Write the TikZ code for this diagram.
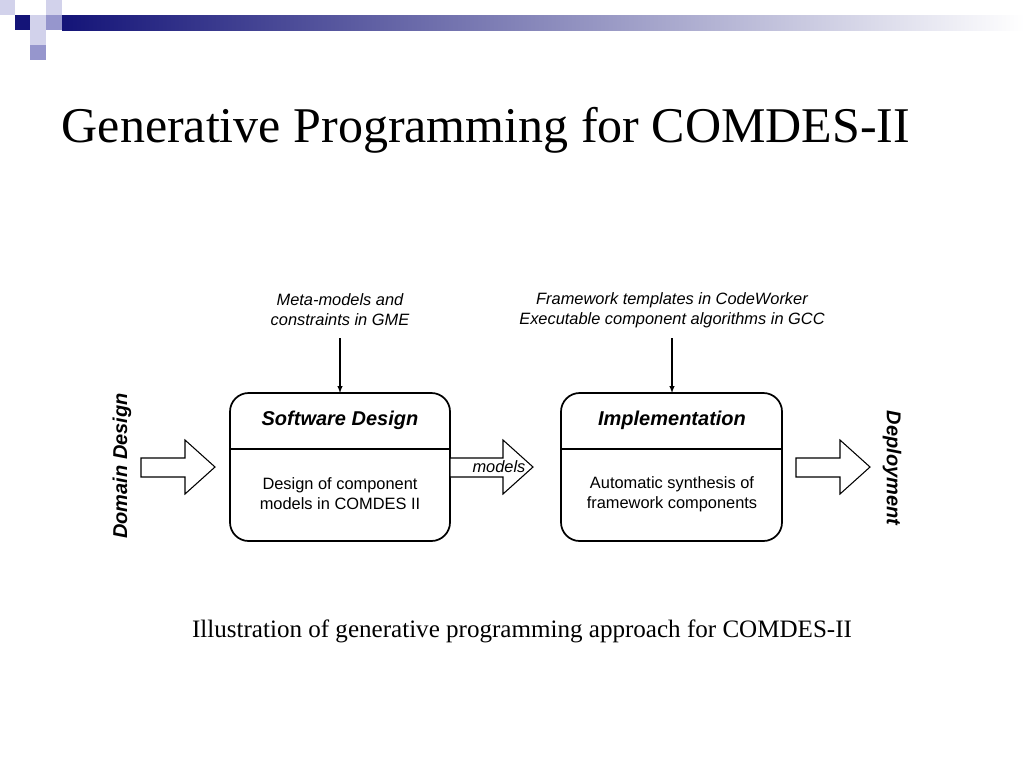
\documentclass[tikz,border=0pt]{standalone}
\usepackage{fontspec}
\setmainfont{Liberation Serif}
\setsansfont{Liberation Sans}
\definecolor{navy}{RGB}{20,20,120}
\definecolor{lightsq}{RGB}{210,210,235}
\definecolor{midsq}{RGB}{150,150,205}
\definecolor{greymid}{RGB}{165,165,190}
\begin{document}
\begin{tikzpicture}[x=0.75pt,y=-0.75pt,
  lbl/.style={font=\sffamily\itshape\fontsize{12.3}{15}\selectfont,align=center},
  body/.style={font=\sffamily\fontsize{12.3}{15}\selectfont,align=center},
  head/.style={font=\sffamily\bfseries\itshape\fontsize{15}{18}\selectfont},
  side/.style={font=\sffamily\bfseries\itshape\fontsize{15}{18}\selectfont},
  blk/.style={draw,line width=1.3pt,rounded corners=14pt},
  fat/.style={draw,line width=0.8pt,fill=white},
  arr/.style={-latex,line width=0.8pt}]
\useasboundingbox (0,0) rectangle (1024,768);
% decoration
\shade[left color=navy,middle color=greymid,right color=white] (62,15) rectangle (1024,30);
\fill[navy] (15,15) rectangle (30,30);
\fill[lightsq] (0,0) rectangle (15,15);
\fill[lightsq] (46,0) rectangle (62,15);
\fill[lightsq] (30,15) rectangle (46,30);
\fill[midsq] (46,15) rectangle (62,30);
\fill[lightsq] (30,30) rectangle (46,45);
\fill[midsq] (30,45) rectangle (46,60);
\node[anchor=west,font=\fontsize{37.5}{42}\selectfont] (title) at (57,130) {Generative Programming for COMDES-II};
% blocks
\draw[blk] (230,393) rectangle (450,541);
\draw[line width=0.8pt] (230,449) -- (450,449);
\draw[blk] (561,393) rectangle (782,541);
\draw[line width=0.8pt] (561,449) -- (782,449);
\node[head] (sd) at (340,420) {Software Design};
\node[body] (sdb) at (340,494) {Design of component\\models in COMDES II};
\node[head] (im) at (672,420) {Implementation};
\node[body] (imb) at (672,494) {Automatic synthesis of\\framework components};
\coordinate (sdt) at (340,393);
\coordinate (imt) at (672,393);
\node[lbl] (m1) at (340,310) {Meta-models and\\constraints in GME};
\node[lbl] (m2) at (672,310) {Framework templates in CodeWorker\\Executable component algorithms in GCC};
\draw[arr] (340,338) -- (sdt);
\draw[arr] (672,338) -- (imt);
% fat arrows
\foreach \a/\b in {141/215,450/533,796/870}{
  \draw[fat] (\a,458) -- (\b-30,458) -- (\b-30,440) -- (\b,467) -- (\b-30,494) -- (\b-30,477) -- (\a,477) -- cycle;}
\node[lbl] (mod) at (499,467) {models};
\node[side,rotate=90] (dd) at (122,466) {Domain Design};
\node[side,rotate=-90] (dp) at (892,468) {Deployment};
\node[font=\fontsize{18.8}{22}\selectfont] (cap) at (522,631) {Illustration of generative programming approach for COMDES-II};
\end{tikzpicture}
\end{document}
